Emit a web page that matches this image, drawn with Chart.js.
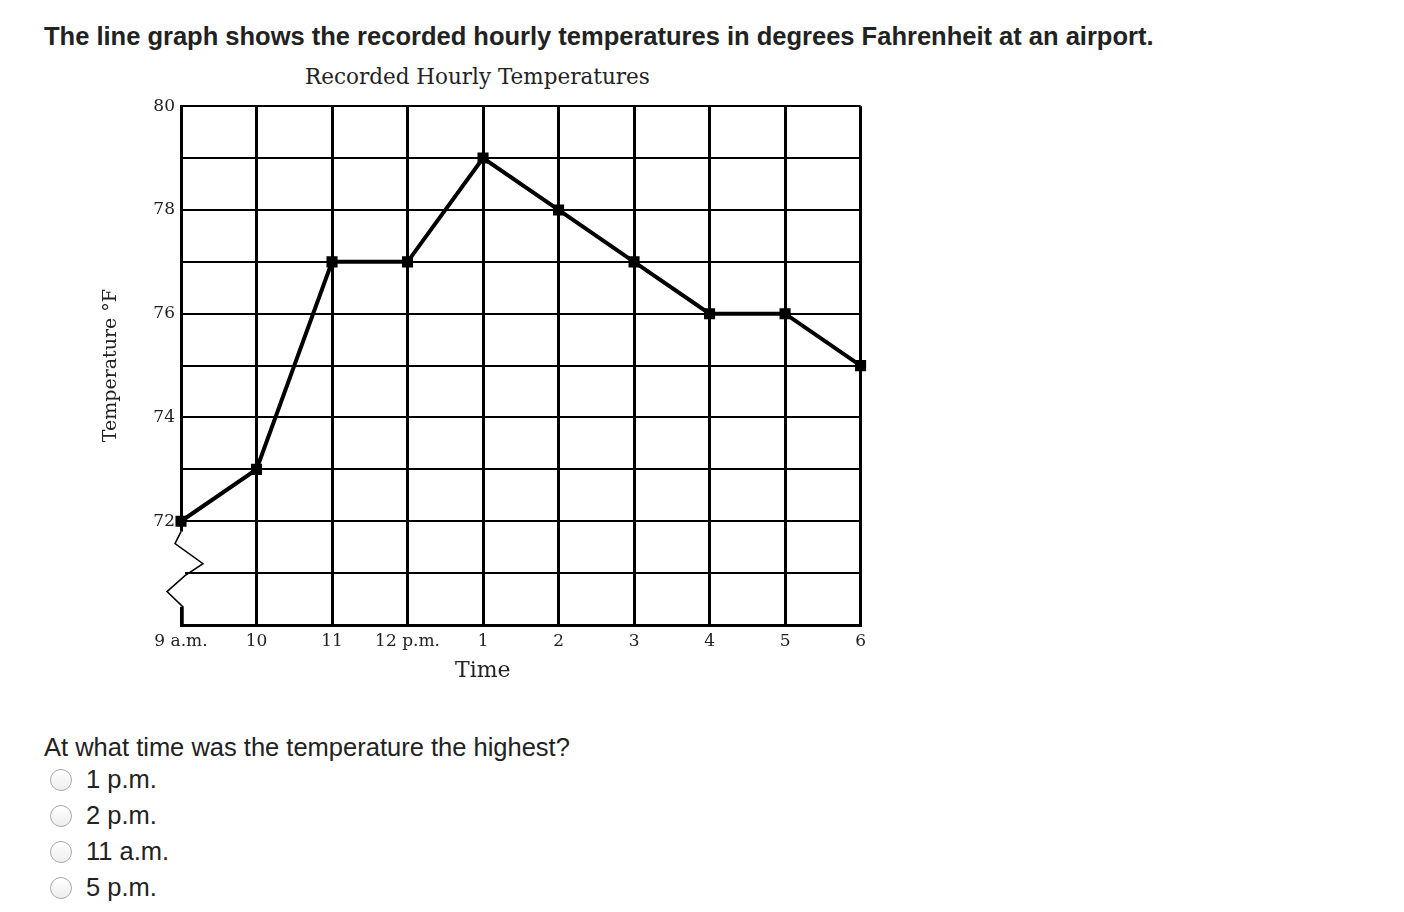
<!DOCTYPE html>
<html><head><meta charset="utf-8">
<script src="https://cdn.jsdelivr.net/npm/chart.js@4/dist/chart.umd.min.js"></script>
<style>
body{margin:0;background:#fff;font-family:"Liberation Sans",Arial,sans-serif;}
#h{position:absolute;left:44px;top:22px;font-weight:bold;font-size:25.5px;color:#222;}
#t{position:absolute;left:305px;top:64px;font-family:"DejaVu Serif",serif;font-size:21.5px;color:#222;}
#tm{position:absolute;left:455px;top:657px;font-family:"DejaVu Serif",serif;font-size:22px;color:#222;}
#wrap{position:absolute;left:80px;top:90px;width:792px;height:600px;}
#q{position:absolute;left:44px;top:733px;font-size:25.5px;color:#222;}
.o{position:absolute;left:50px;font-size:25.5px;color:#222;}
.o span{display:inline-block;width:20px;height:20px;border:1px solid #aaa;border-radius:50%;vertical-align:-3px;margin-right:14px;background:linear-gradient(#fff,#eee);}
</style></head><body>
<div id="h">The line graph shows the recorded hourly temperatures in degrees Fahrenheit at an airport.</div>
<div id="t">Recorded Hourly Temperatures</div>
<div id="wrap"><canvas id="c"></canvas></div>
<div id="tm">Time</div>
<div id="q">At what time was the temperature the highest?</div>
<div class="o" style="top:765px"><span></span>1 p.m.</div>
<div class="o" style="top:801px"><span></span>2 p.m.</div>
<div class="o" style="top:837px"><span></span>11 a.m.</div>
<div class="o" style="top:873px"><span></span>5 p.m.</div>
<script>
const categories=["9 a.m.","10","11","12 p.m.","1","2","3","4","5","6"];
const temps=[72,73,77,77,79,78,77,76,76,75];
const yLabels=[72,74,76,78,80];
const breakPlugin={id:'brk',afterDraw(ch){
  const c=ch.ctx,x=ch.scales.x.getPixelForValue(0),y=ch.scales.y;
  const y1=y.getPixelForValue(71.8),y2=y.getPixelForValue(70.35);
  c.save();c.fillStyle='#fff';c.fillRect(x-3,y1,7,y2-y1);
  c.strokeStyle='#000';c.lineWidth=1.5;c.beginPath();
  c.moveTo(x,y1);c.lineTo(x-6,y1+12);c.lineTo(x+22,y1+32);c.lineTo(x+4,y1+44);c.lineTo(x-14,y1+60);c.lineTo(x+2,y2);c.lineTo(x+2,y.getPixelForValue(70.35)+20);
  c.stroke();c.restore();}};
new Chart(document.getElementById('c'),{type:'line',
data:{labels:categories,datasets:[{data:temps,borderColor:'#000',backgroundColor:'#000',borderWidth:4,pointStyle:'rect',pointRadius:5,tension:0}]},
options:{responsive:true,maintainAspectRatio:false,animation:false,
layout:{padding:{top:10,right:10,left:0,bottom:0}},
plugins:{legend:{display:false},tooltip:{enabled:false}},
scales:{
x:{offset:false,grid:{color:'#000',lineWidth:3,drawTicks:false},border:{color:'#000',width:3},
 ticks:{color:'#222',font:{family:'DejaVu Serif',size:17},maxRotation:0,padding:6},
 afterFit(s){s.height=65;}},
y:{min:70,max:80,grid:{color:'#000',lineWidth:2,drawTicks:false},border:{color:'#000',width:3},
 ticks:{stepSize:1,color:'#222',font:{family:'DejaVu Serif',size:17},padding:6,
  callback:v=>yLabels.includes(v)?String(v):''},
 title:{display:true,text:'Temperature °F',color:'#222',font:{family:'DejaVu Serif',size:19},padding:{top:20,bottom:0}},
 afterFit(s){s.width=101;}}}},
plugins:[breakPlugin]});
</script></body></html>
